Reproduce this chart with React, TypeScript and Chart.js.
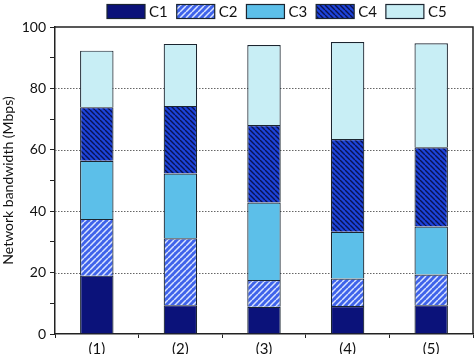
import React, { useEffect, useRef } from 'react';
import { Chart, registerables } from 'chart.js';
Chart.register(...registerables);

const categories = ['(1)', '(2)', '(3)', '(4)', '(5)'];
const seriesNames = ['C1', 'C2', 'C3', 'C4', 'C5'];
const c1 = [19.0, 9.4, 8.9, 9.1, 9.4];
const c2 = [18.5, 21.8, 8.7, 9.0, 10.0];
const c3 = [18.9, 21.1, 25.2, 15.2, 15.6];
const c4 = [17.5, 22.0, 25.3, 30.2, 25.8];
const c5 = [18.4, 20.2, 26.0, 31.6, 33.9];
const gridValues = [20, 40, 60, 80];
const yTitle = 'Network bandwidth (Mbps)';

const FONT = 'Lato, "Open Sans", sans-serif';
const EDGE = '#1b2530';

function hatch(bg: string, line: string, dir: string, size = 6, lw = 1.6) {
  const c = document.createElement('canvas');
  c.width = size;
  c.height = size;
  const ctx = c.getContext('2d')!;
  ctx.fillStyle = bg;
  ctx.fillRect(0, 0, size, size);
  ctx.strokeStyle = line;
  ctx.lineWidth = lw;
  ctx.beginPath();
  for (const o of [-size, 0, size]) {
    if (dir === '/') {
      ctx.moveTo(o, size);
      ctx.lineTo(o + size, 0);
    } else {
      ctx.moveTo(o, 0);
      ctx.lineTo(o + size, size);
    }
  }
  ctx.stroke();
  return ctx.createPattern(c, 'repeat')!;
}

export default function App() {
  const ref = useRef<HTMLCanvasElement>(null);
  useEffect(() => {
    document.body.style.margin = '0';
    const fills: any[] = [
      '#0b127a',
      hatch('#3f63ea', '#d9e4ff', '/', 6, 1.5),
      '#5cbfe9',
      hatch('#1c43da', '#0a1250', '\\', 5, 1.4),
      '#c8eef5',
    ];
    const values = [c1, c2, c3, c4, c5];

    const plugin = {
      id: 'decor',
      beforeDatasetsDraw(chart: any) {
        const { ctx, chartArea } = chart;
        const y = chart.scales.y;
        ctx.save();
        ctx.strokeStyle = '#666';
        ctx.lineWidth = 1;
        ctx.setLineDash([1.5, 1.5]);
        for (const v of gridValues) {
          const py = Math.round(y.getPixelForValue(v)) + 0.5;
          ctx.beginPath();
          ctx.moveTo(chartArea.left, py);
          ctx.lineTo(chartArea.right, py);
          ctx.stroke();
        }
        ctx.restore();
      },
      afterDraw(chart: any) {
        const { ctx, chartArea } = chart;
        ctx.save();
        ctx.strokeStyle = '#222';
        ctx.lineWidth = 1.5;
        ctx.beginPath();
        ctx.moveTo(chartArea.left, chartArea.top);
        ctx.lineTo(chartArea.right, chartArea.top);
        ctx.lineTo(chartArea.right, chartArea.bottom);
        ctx.stroke();

        // legend
        ctx.font = `15px ${FONT}`;
        const boxW = 38, boxH = 14, gap1 = 4, gap2 = 9;
        const widths = seriesNames.map((n) => ctx.measureText(n).width);
        let x = chartArea.left + 52;
        const top = 4.5;
        seriesNames.forEach((n, i) => {
          ctx.fillStyle = fills[i];
          ctx.fillRect(x, top, boxW, boxH);
          ctx.strokeStyle = EDGE;
          ctx.lineWidth = 1.2;
          ctx.strokeRect(x, top, boxW, boxH);
          ctx.fillStyle = '#111';
          ctx.textBaseline = 'middle';
          ctx.textAlign = 'left';
          ctx.fillText(n, x + boxW + gap1, top + boxH / 2 + 1);
          x += boxW + gap1 + widths[i] + gap2;
        });
        ctx.restore();
      },
    };

    const chart = new Chart(ref.current!, {
      type: 'bar',
      data: {
        labels: categories,
        datasets: seriesNames.map((n, i) => ({
          label: n,
          data: values[i],
          backgroundColor: fills[i],
          borderColor: EDGE,
          borderWidth: 1.2,
          categoryPercentage: 1,
          barPercentage: 0.4,
        })),
      },
      options: {
        animation: false,
        responsive: false,
        layout: { padding: { top: 27, right: 1, left: 0, bottom: 0 } },
        plugins: { legend: { display: false }, tooltip: { enabled: false } },
        scales: {
          x: {
            stacked: true,
            grid: { offset: true, drawOnChartArea: false, drawTicks: true, tickLength: 4, color: '#222', tickColor: '#222' },
            border: { color: '#222', width: 1.5 },
            ticks: { font: { family: FONT, size: 15 }, color: '#111', padding: 2 },
            afterFit: (s: any) => { s.height = 20; },
          },
          y: {
            stacked: true,
            min: 0,
            max: 100,
            ticks: {
              stepSize: 10,
              autoSkip: false,
              callback: (v: any) => (v % 20 === 0 ? String(v) : ''),
              font: { family: FONT, size: 14 },
              color: '#111',
              padding: 4,
            },
            grid: { drawOnChartArea: false, tickLength: 5, color: '#222', tickColor: '#222' },
            border: { color: '#222', width: 1.5 },
            title: { display: true, text: yTitle, font: { family: FONT, size: 14 }, color: '#111', padding: 0 },
            afterFit: (s: any) => { s.width = 55; },
          },
        },
      },
      plugins: [plugin],
    } as any);
    return () => chart.destroy();
  }, []);
  return (
    <div style={{ width: 474, height: 354 }}>
      <canvas ref={ref} width={474} height={354} />
    </div>
  );
}
